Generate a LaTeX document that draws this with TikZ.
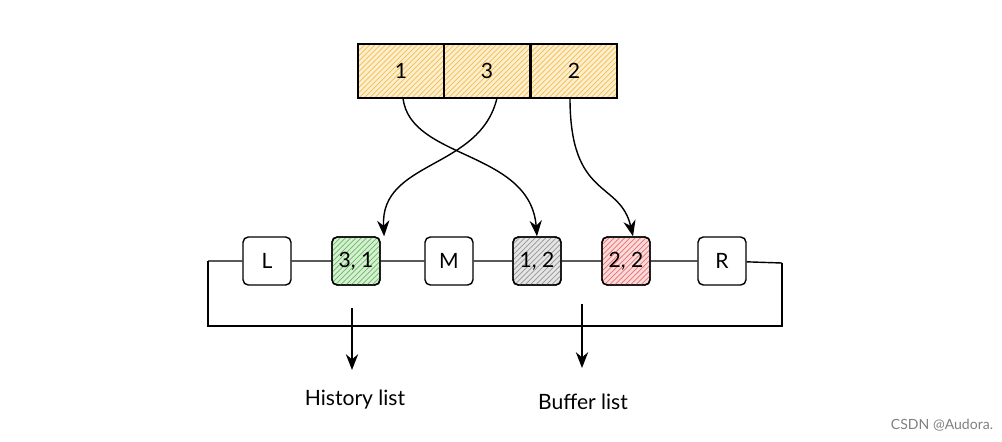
\documentclass[tikz,border=0pt]{standalone}
\usepackage{fontspec}
\setmainfont{Lato}
\usetikzlibrary{arrows.meta, positioning, patterns}
\definecolor{cellyellow}{RGB}{245,190,70}
\definecolor{cellgreen}{RGB}{100,190,90}
\definecolor{cellgray}{RGB}{150,150,150}
\definecolor{cellred}{RGB}{235,110,110}

\begin{document}
\begin{tikzpicture}[
                x=0.02cm, y=-0.02cm,
                thick,
                cell/.style={rectangle, draw, minimum width=1.72cm, minimum height=1.08cm, font=\large, inner sep=0pt},
                item/.style={rectangle, draw, rounded corners=3pt, minimum size=0.96cm, font=\large, inner sep=0pt, fill=white},
                hatch/.style={pattern={north east lines}, pattern color=#1},
                pointer/.style={-{Stealth[length=9pt,width=7pt]}}
            ]
                \useasboundingbox (0,0) rectangle (1002,441);
                % top array
                \fill[cellyellow!25] (358,44) rectangle (618,98);
                \fill[hatch=cellyellow] (358,44) rectangle (618,98);
                \node[cell] (c1) at (401,71) {1};
                \node[cell] (c3) at (487,71) {3};
                \node[cell] (c2) at (574,71) {2};

                % list
                \coordinate (lend) at (208,261);
                \coordinate (rend) at (782,263);
                \draw (lend) -- (208,326) -- (782,326) -- (rend);
                \node[item] (L) at (267,261) {L};
                \node[item, fill=cellgreen!25] (h31) at (356,261) {};
                \node[item] (M) at (449,261) {M};
                \node[item, fill=cellgray!25] (b12) at (537,261) {};
                \node[item, fill=cellred!25] (b22) at (626,261) {};
                \node[item] (R) at (722,261) {R};
                \fill[hatch=cellgreen] (333,238) rectangle (379,284);
                \fill[hatch=cellgray] (514,238) rectangle (560,284);
                \fill[hatch=cellred] (603,238) rectangle (649,284);
                \node[item, fill=none] at (h31) {3, 1};
                \node[item, fill=none] at (b12) {1, 2};
                \node[item, fill=none] at (b22) {2, 2};
                \draw (lend) -- (L) -- (h31) -- (M) -- (b12) -- (b22) -- (R) -- (rend);

                % pointers
                \draw[pointer] (403,98) .. controls (410,160) and (530,150) .. (b12.north);
                \draw[pointer] (497,98) .. controls (480,170) and (380,160) .. ([xshift=16]h31.north);
                \draw[pointer] (570,98) .. controls (570,200) and (620,180) .. ([xshift=4]b22.north);

                % outputs
                \node[font=\large] (hist) at (355,400) {History list};
                \node[font=\large] (buf) at (583,402) {Buffer list};
                \coordinate (hs) at (352,308);
                \coordinate (bs) at (582,304);
                \draw[pointer] (hs) -- (352,370);
                \draw[pointer] (bs) -- (582,368);

                \node[font=\footnotesize, text=gray] (mark) at (942,425) {CSDN @Audora.};
            \end{tikzpicture}
\end{document}
